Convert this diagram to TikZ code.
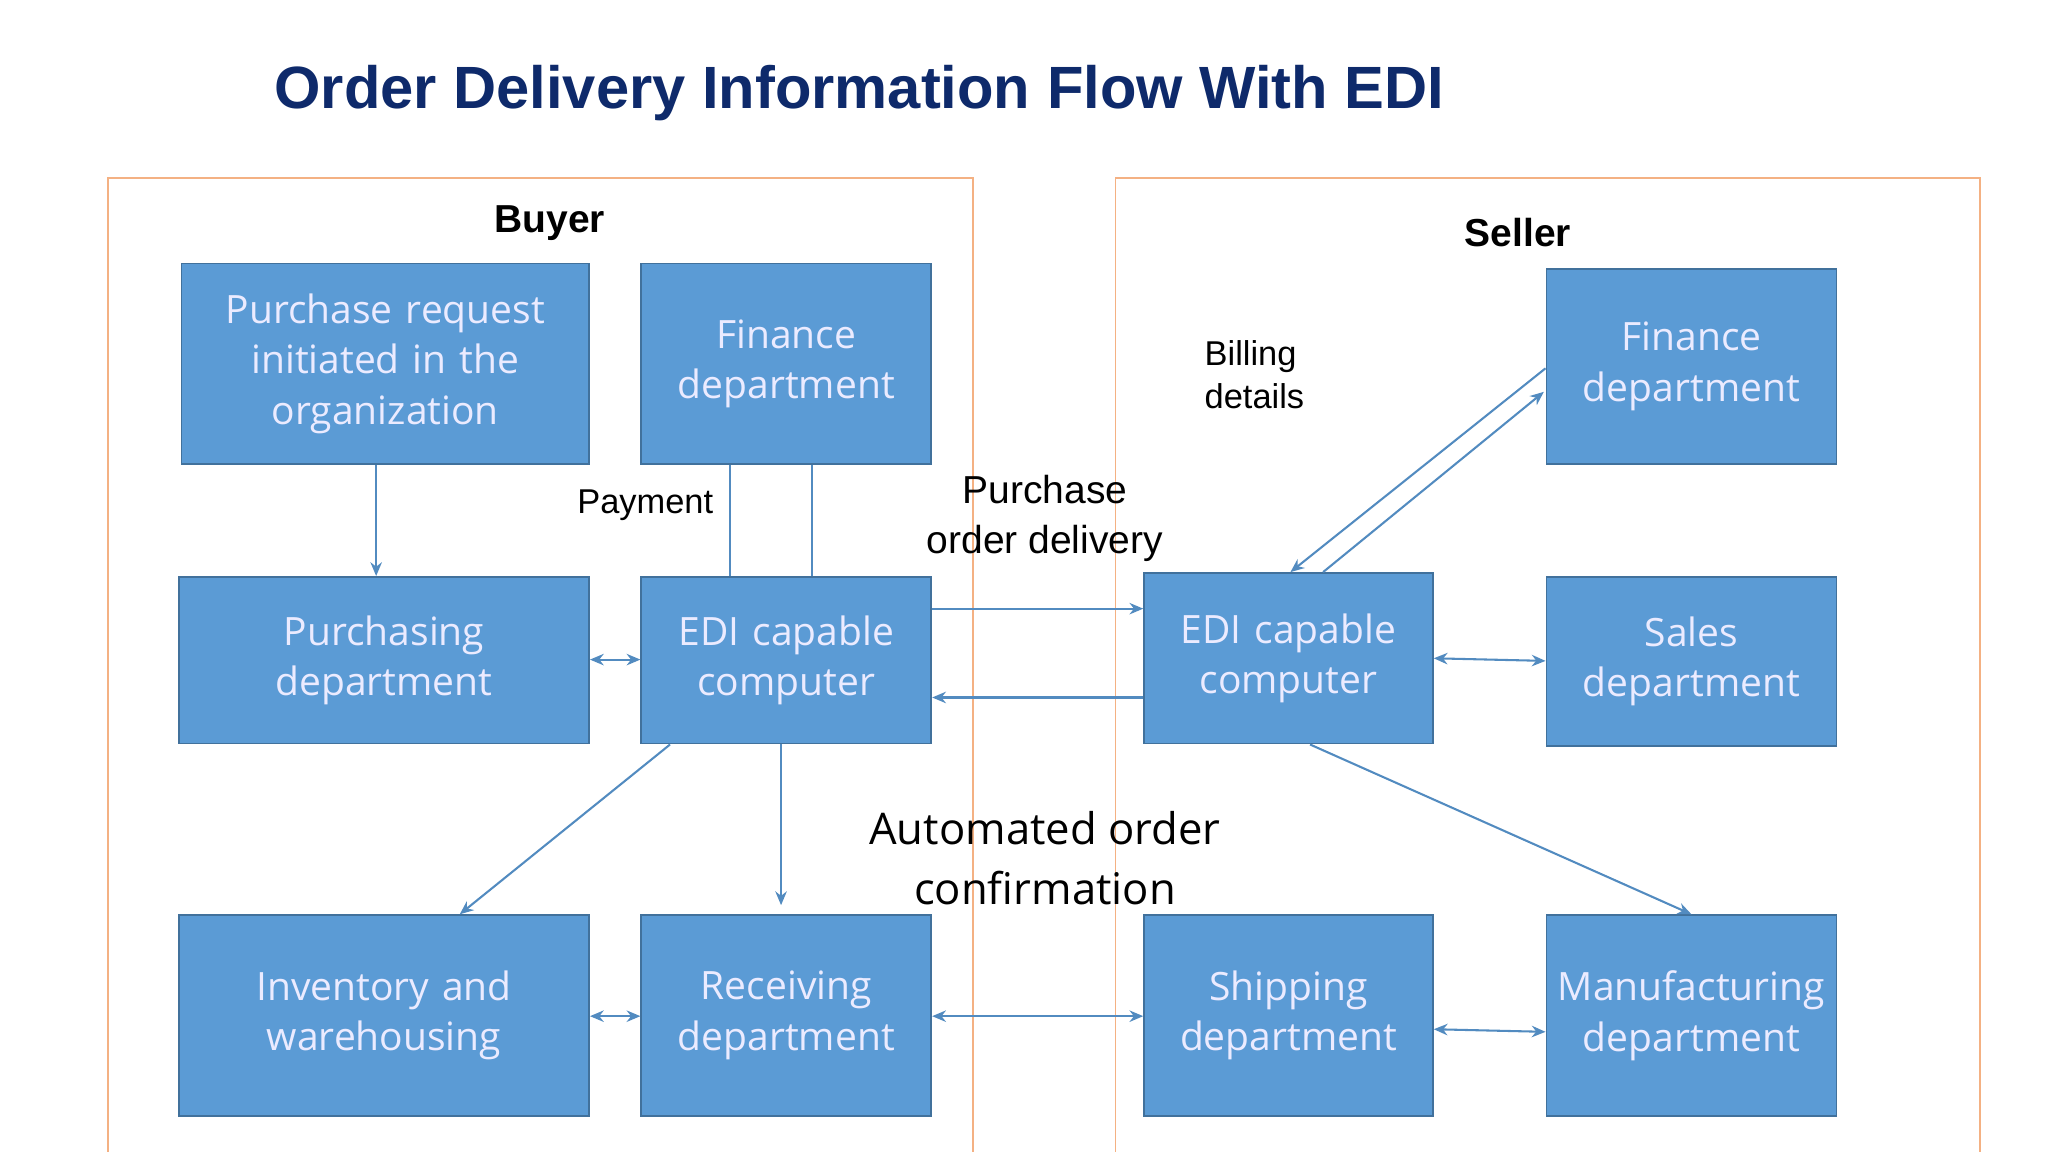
\documentclass[tikz,border=0pt]{standalone}
\usepackage{fontspec}
\setmainfont{Liberation Sans}
\newfontfamily\boxfont{Open Sans}
\usetikzlibrary{arrows.meta}
\definecolor{bfill}{HTML}{5B9BD5}
\definecolor{bdraw}{HTML}{41719C}
\definecolor{frame}{HTML}{F4B183}
\definecolor{navy}{HTML}{0E2A6B}
\tikzset{
 blk/.style={draw=bdraw,fill=bfill,line width=0.8pt,text=white!92!blue,font=\boxfont\fontsize{17}{22}\selectfont,align=center,inner sep=0pt},
 frm/.style={draw=frame,line width=0.8pt},
 con/.style={draw=bfill!90!black,line width=0.9pt},
 ar/.style={con,-{Stealth[length=6pt,width=5pt]}},
 dar/.style={con,{Stealth[length=6pt,width=5pt]}-{Stealth[length=6pt,width=5pt]}},
 lbl/.style={font=\fontsize{15}{19}\selectfont,align=center,inner sep=0pt}
}
\newcommand{\bx}[6]{\node[blk,minimum width=#4*0.02cm-0.8pt,minimum height=#5*0.02cm-0.8pt,text width=#4*0.02cm] (#1) at ({#2+#4/2},{#3+#5/2}) {#6};}
\begin{document}
\begin{tikzpicture}[x=0.02cm,y=-0.02cm]
\useasboundingbox[fill=white] (0,0) rectangle (1568,882);
\node[font=\bfseries\fontsize{26}{30}\selectfont,text=navy,anchor=west] (title) at (204,71) {Order Delivery Information Flow With EDI};
\draw[frm] (83,136) rectangle (745,890);
\draw[frm] (854,136) rectangle (1516,890);
\node[font=\bfseries\fontsize{17}{20}\selectfont] (buyer) at (421,171) {Buyer};
\node[font=\bfseries\fontsize{17}{20}\selectfont] (seller) at (1162,178) {Seller};
\bx{pr}{139}{201}{312}{155}{Purchase request\\initiated in the\\organization}
\bx{finb}{491}{201}{222}{155}{Finance\\department}
\bx{purd}{137}{441}{314}{129}{Purchasing\\department}
\bx{edib}{491}{441}{222}{129}{EDI capable\\computer}
\bx{inv}{137}{700}{314}{155}{Inventory and\\warehousing}
\bx{rec}{491}{700}{222}{155}{Receiving\\department}
\bx{fins}{1184}{205}{222}{151}{Finance\\department}
\bx{edis}{876}{438}{221}{132}{EDI capable\\computer}
\bx{sales}{1184}{441}{222}{131}{Sales\\department}
\bx{ship}{876}{700}{221}{155}{Shipping\\department}
\bx{manu}{1184}{700}{222}{155}{Manufacturing\\department}
\foreach \n/\v in {x288/288,x559/559,x622/622,x513/513,x352/352,x598/598,x1003/1003,x1295/1295,x988/988,x1013/1013}{\coordinate (\n) at (\v,0);}
\foreach \n/\v in {y505/505,y466/466,y534/534,y778/778,y504/504,y506/506,y788/788,y790/790,y282/282,y693/693}{\coordinate (\n) at (0,\v);}
\coordinate (finsin) at (1182,300);
\draw[ar] (pr.south -| x288) -- (purd.north -| x288);
\draw[con] (finb.south -| x559) -- (edib.north -| x559);
\draw[con] (finb.south -| x622) -- (edib.north -| x622);
\draw[dar] (purd.east |- y505) -- (edib.west |- y505);
\draw[ar] (edib.east |- y466) -- (edis.west |- y466);
\draw[ar] (edis.west |- y534) -- (edib.east |- y534);
\draw[ar] (edib.south -| x513) -- (inv.north -| x352);
\draw[ar] (edib.south -| x598) -- (x598 |- y693);
\draw[dar] (inv.east |- y778) -- (rec.west |- y778);
\draw[dar] (rec.east |- y778) -- (ship.west |- y778);
\draw[dar] (edis.east |- y504) -- (sales.west |- y506);
\draw[dar] (ship.east |- y788) -- (manu.west |- y790);
\draw[ar] (edis.south -| x1003) -- (manu.north -| x1295);
\draw[ar] (fins.west |- y282) -- (edis.north -| x988);
\draw[ar] (edis.north -| x1013) -- (finsin);
\node[lbl] (pay) at (494,387) {Payment};
\node[lbl,font=\fontsize{17}{22}\selectfont] (pod) at (800,397) {Purchase\\order delivery};
\node[lbl,align=left,anchor=west] (bill) at (922,287) {Billing\\details};
\node[lbl,font=\boxfont\fontsize{19}{26}\selectfont] (aoc) at (800,657) {Automated order\\confirmation};
\end{tikzpicture}
\end{document}
